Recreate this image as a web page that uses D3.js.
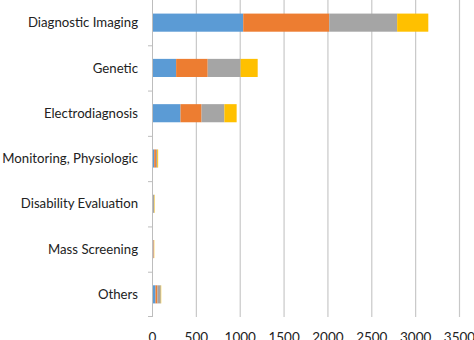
<!DOCTYPE html>
<html>
<head>
<meta charset="utf-8">
<script src="https://cdn.jsdelivr.net/npm/d3@7"></script>
<style>
  html, body { margin: 0; padding: 0; background: #fff; overflow: hidden; }
  text { font-family: Lato, "Open Sans", sans-serif; fill: #222; }
</style>
</head>
<body>
<svg id="chart" width="474" height="340"></svg>
<script>
// Test categories (top to bottom)
const categories = [
  "Diagnostic Imaging", "Genetic", "Electrodiagnosis",
  "Monitoring, Physiologic", "Disability Evaluation", "Mass Screening", "Others"
];
// Four stacked series, one value per category
const series1 = [1040, 275, 325, 25, 5, 3, 40];
const series2 = [980, 360, 240, 20, 5, 15, 22];
const series3 = [775, 375, 260, 15, 15, 5, 38];
const series4 = [355, 195, 140, 10, 5, 3, 5];
const seriesColors = ["#5B9BD5", "#ED7D31", "#A5A5A5", "#FFC000"];
const xTicks = [0, 500, 1000, 1500, 2000, 2500, 3000, 3500];

const svg = d3.select("#chart");
const margin = { left: 152, top: 0, right: 15, bottom: 23 };
const W = 474, H = 340;
const innerH = H - margin.top - margin.bottom;

const x = d3.scaleLinear().domain([0, 3500]).range([margin.left, W - margin.right]);
const y = d3.scaleBand().domain(categories).range([margin.top, margin.top + innerH]).paddingInner(0.6).paddingOuter(0.3);
const band = d3.scaleBand().domain(categories).range([margin.top, margin.top + innerH]);

// Vertical gridlines
svg.append("g").selectAll("line").data(xTicks.slice(1)).join("line")
  .attr("x1", d => x(d) + 0.5).attr("x2", d => x(d) + 0.5)
  .attr("y1", margin.top).attr("y2", margin.top + innerH)
  .attr("stroke", "#C8C8C8").attr("stroke-width", 1.2);

// Stacked bars
const rows = categories.map((c, i) => ({ cat: c, s1: series1[i], s2: series2[i], s3: series3[i], s4: series4[i] }));
const stack = d3.stack().keys(["s1", "s2", "s3", "s4"])(rows);
svg.append("g").selectAll("g").data(stack).join("g")
  .attr("fill", (d, i) => seriesColors[i])
  .selectAll("rect").data(d => d).join("rect")
  .attr("x", d => x(d[0]))
  .attr("width", d => x(d[1]) - x(d[0]))
  .attr("y", d => y(d.data.cat))
  .attr("height", y.bandwidth());

// Category axis: line plus small ticks between categories
const yAxis = svg.append("g");
yAxis.append("line")
  .attr("x1", margin.left + 0.5).attr("x2", margin.left + 0.5)
  .attr("y1", margin.top).attr("y2", margin.top + innerH)
  .attr("stroke", "#BDBDBD");
yAxis.selectAll("line.tick").data(categories.slice(1).concat(["end"])).join("line")
  .attr("class", "tick")
  .attr("x1", margin.left - 4).attr("x2", margin.left)
  .attr("y1", (d, i) => i < categories.length - 1 ? band(d) + 0.5 : margin.top + innerH - 0.5)
  .attr("y2", (d, i) => i < categories.length - 1 ? band(d) + 0.5 : margin.top + innerH - 0.5)
  .attr("stroke", "#BDBDBD");
yAxis.selectAll("text").data(categories).join("text")
  .attr("x", margin.left - 14)
  .attr("y", d => band(d) + band.bandwidth() / 2)
  .attr("dy", "0.35em")
  .attr("text-anchor", "end")
  .attr("font-size", 13.2)
  .text(d => d);

// Value axis labels
const xAxis = d3.axisBottom(x).tickValues(xTicks).tickFormat(d3.format("d")).tickSize(0).tickPadding(15);
const gx = svg.append("g").attr("transform", `translate(0,${margin.top + innerH})`).call(xAxis);
gx.select(".domain").remove();
gx.selectAll("text").attr("font-size", 13.5).style("font-family", "Lato, 'Open Sans', sans-serif").attr("fill", "#222");
</script>
</body>
</html>
